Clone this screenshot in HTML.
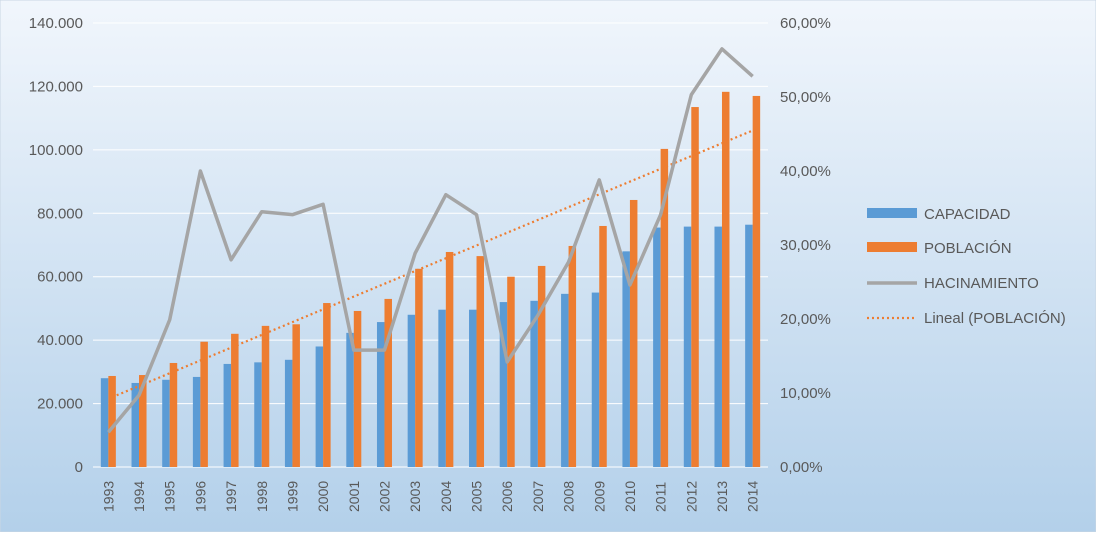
<!DOCTYPE html>
<html><head><meta charset="utf-8"><style>
body{margin:0;}
svg text{font-family:"Liberation Sans",sans-serif;fill:#595959;}
</style></head><body>
<svg id="chart" width="1096" height="532" xmlns="http://www.w3.org/2000/svg">
<defs><linearGradient id="bg" x1="0" y1="0" x2="0" y2="1"><stop offset="0" stop-color="#f1f6fc"/><stop offset="1" stop-color="#b3d0ea"/></linearGradient></defs>
<rect x="0" y="0" width="1096" height="532" fill="url(#bg)" stroke="#c9d6e3"/>
<g id="grid"></g><g id="bars"></g><g id="lines"></g><g id="axes"></g><g id="legend"></g>
</svg>
<script>
const categories=["1993","1994","1995","1996","1997","1998","1999","2000","2001","2002","2003","2004","2005","2006","2007","2008","2009","2010","2011","2012","2013","2014"];
const capacidad=[28000,26500,27500,28400,32500,33000,33800,38000,42300,45700,48000,49600,49600,52000,52400,54600,55000,68000,75500,75800,75800,76400];
const poblacion=[28700,29000,32800,39500,42000,44500,45000,51700,49200,53000,62500,67800,66500,60000,63400,69700,76000,84200,100300,113500,118300,117000];
const hacinamiento=[4.7,9.7,19.9,40,28,34.5,34.1,35.5,15.8,15.8,28.9,36.8,34.1,14.2,20.5,27.7,38.8,24.6,34.1,50.3,56.5,52.8];
const leftTicks=[0,20000,40000,60000,80000,100000,120000,140000];
const leftTickLabels=["0","20.000","40.000","60.000","80.000","100.000","120.000","140.000"];
const rightTicks=[0,10,20,30,40,50,60];
const rightTickLabels=["0,00%","10,00%","20,00%","30,00%","40,00%","50,00%","60,00%"];
const NS="http://www.w3.org/2000/svg";
const X0=93,X1=768,Y0=467,Y1=23;
const band=(X1-X0)/categories.length;
const xc=i=>X0+band*(i+0.5);
const yL=v=>Y0-(v/140000)*(Y0-Y1);
const yR=v=>Y0-(v/60)*(Y0-Y1);
function mk(tag,attrs,parent,txt){const e=document.createElementNS(NS,tag);for(const k in attrs)e.setAttribute(k,attrs[k]);if(txt!==undefined)e.textContent=txt;document.getElementById(parent).appendChild(e);return e;}
leftTicks.forEach((t,i)=>{
 const g=mk('line',{x1:X0,x2:X1,y1:yL(t),y2:yL(t),stroke:'#ffffff','stroke-width':1},'grid');
 
 
 const l=mk('text',{x:83,y:yL(t)+5,'text-anchor':'end','font-size':15},'axes',leftTickLabels[i]);
 
 
});
rightTicks.forEach((t,i)=>{
 const l=mk('text',{x:780,y:yR(t)+5,'text-anchor':'start','font-size':15},'axes',rightTickLabels[i]);
 
 
});
const bw=7.5;
categories.forEach((c,i)=>{
 const b=mk('rect',{x:xc(i)-bw,y:yL(capacidad[i]),width:bw,height:Y0-yL(capacidad[i]),fill:'#5b9bd5'},'bars');
 
 
 const o=mk('rect',{x:xc(i),y:yL(poblacion[i]),width:bw,height:Y0-yL(poblacion[i]),fill:'#ed7d31'},'bars');
 
 
 const t=mk('text',{transform:`translate(${xc(i)+5},${512}) rotate(-90)`,'font-size':14,fill:'#404040'},'axes',c);
 
 
});
const n=poblacion.length;let sx=0,sy=0,sxy=0,sxx=0;
poblacion.forEach((v,i)=>{sx+=i;sy+=v;sxy+=i*v;sxx+=i*i;});
const m=(n*sxy-sx*sy)/(n*sxx-sx*sx),b0=(sy-m*sx)/n;
const tr=mk('line',{x1:xc(0)+bw/2,y1:yL(b0),x2:xc(n-1)+bw/2,y2:yL(b0+m*(n-1)),stroke:'#ed7d31','stroke-width':2.2,'stroke-dasharray':'2,3'},'lines');


const pl=mk('polyline',{points:hacinamiento.map((v,i)=>xc(i)+','+yR(v)).join(' '),fill:'none',stroke:'#a5a5a5','stroke-width':3.5,'stroke-linejoin':'round'},'lines');


const leg=[["CAPACIDAD","bar","#5b9bd5",214],["POBLACIÓN","bar","#ed7d31",248],["HACINAMIENTO","line","#a5a5a5",283],["Lineal (POBLACIÓN)","dot","#ed7d31",318]];
leg.forEach(([t,k,c,y])=>{
 let s;
 if(k==="bar") s=mk('rect',{x:867,y:y-6,width:50,height:10,fill:c},'legend');
 else s=mk('line',{x1:867,x2:917,y1:y,y2:y,stroke:c,'stroke-width':k==="line"?3.5:2.2,'stroke-dasharray':k==="dot"?'2,3':'none'},'legend');
 
 
 const tx=mk('text',{x:924,y:y+5,'font-size':15},'legend',t);
 
 
});
</script>
</body></html>
